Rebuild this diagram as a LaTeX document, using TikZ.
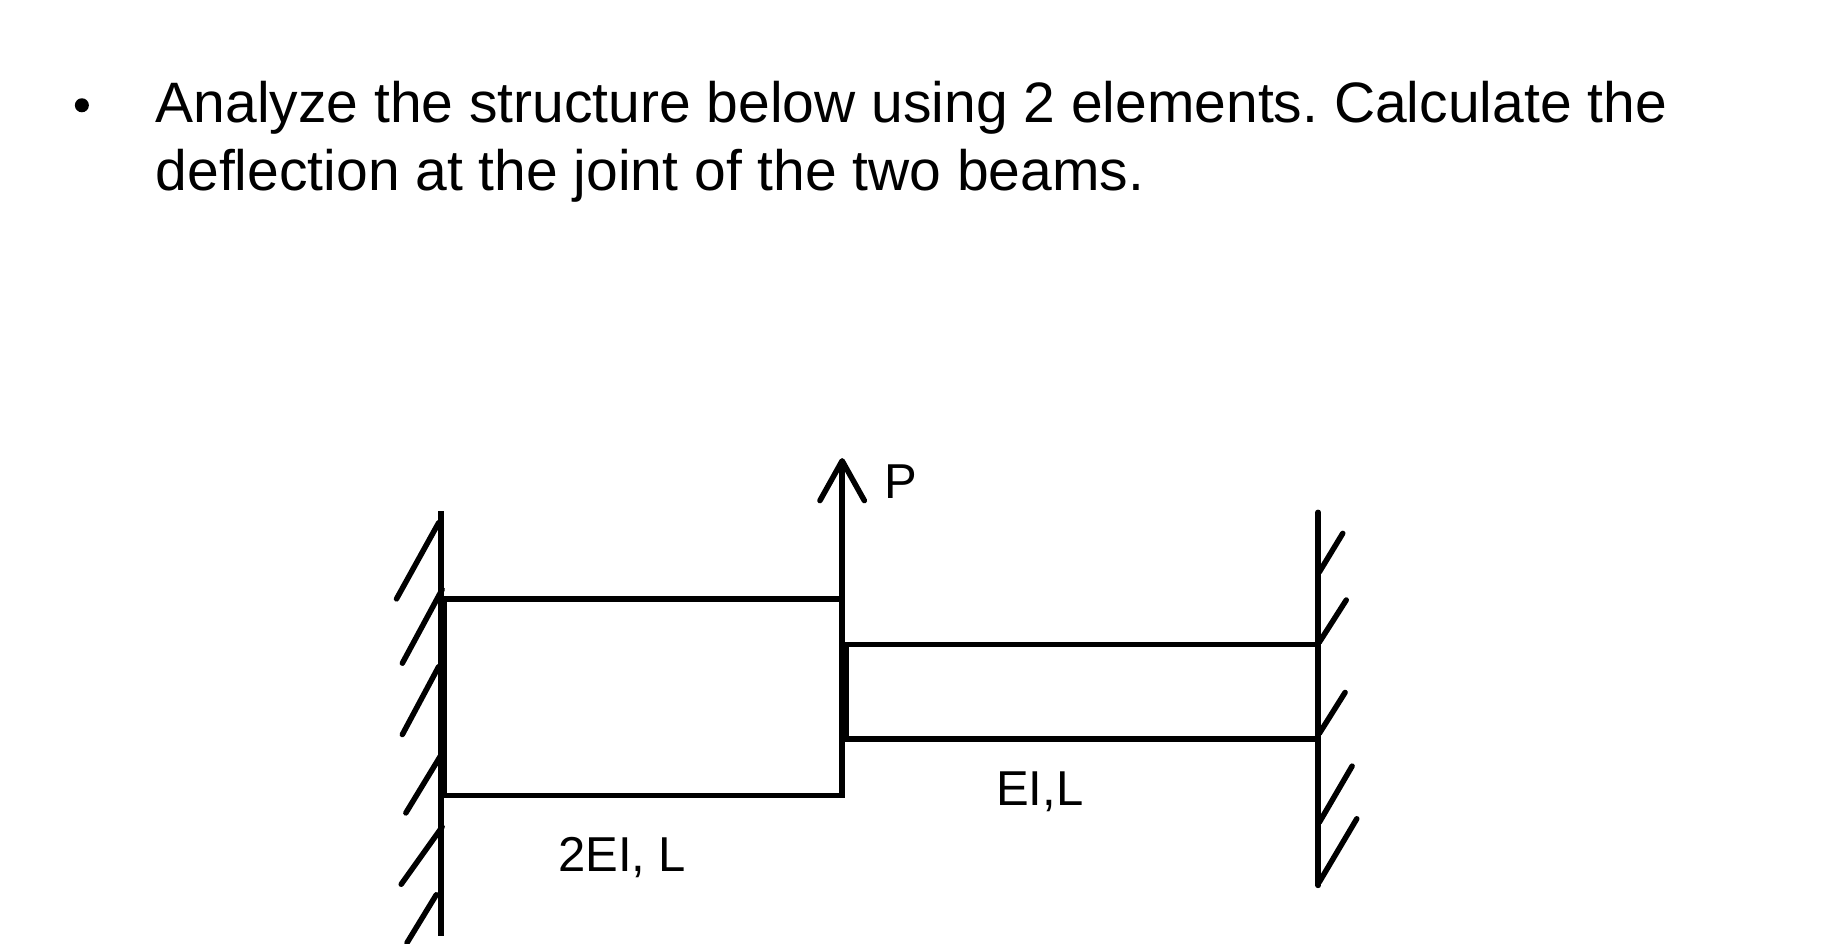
\documentclass[tikz,border=0pt]{standalone}
\usepackage{fontspec}
\setmainfont{Liberation Sans}
\frenchspacing
\begin{document}
\begin{tikzpicture}[x=1.1697pt,y=-1.1697pt,
  thin line/.style={line width=5.5pt},
  thick line/.style={line width=9pt},
  hatch/.style={line width=5.5pt,line cap=round},
  title/.style={font=\fontsize{57}{66}\selectfont,anchor=base west,inner sep=0},
  lab/.style={font=\fontsize{49}{56}\selectfont,inner sep=0}]
\useasboundingbox (0,0) rectangle (1568,807);
\fill (70,90) circle (6);
\node[title] (t1) at (133,105) {Analyze the structure below using 2 elements. Calculate the};
\node[title] (t2) at (133,163) {deflection at the joint of the two beams.};
% left wall
\draw[thin line] (377,437) -- (377,800);
\draw[thick line] (378,512) -- (378,680);
\foreach \a/\b/\c/\d in {375/447/339/512, 378/504/344/567, 375/570/344/628, 378/644/347/695, 378/707/343/756, 373/765/348/806}
  \draw[hatch] (\a,\b) -- (\c,\d);
% left beam
\draw[thin line] (377,512) -- (720,512) -- (720,680) -- (377,680);
% right beam
\draw[thin line] (720,551) -- (1128,551);
\draw[thin line] (720,632) -- (1128,632);
\draw[thick line] (722,551) -- (722,632);
% right wall
\draw[thin line,line cap=round] (1127,438) -- (1127,757);
\foreach \a/\b/\c/\d in {1128/489/1148/456, 1128/549/1151/513, 1128/627/1150/592, 1128/703/1156/655, 1128/754/1160/700}
  \draw[hatch] (\a,\b) -- (\c,\d);
% load
\coordinate (tip) at (720,394);
\draw[thin line] (720,512) -- (tip);
\draw[hatch,line join=round] (701,428) -- (tip) -- (739,428);
\node[lab,anchor=west] (P) at (756,412) {P};
\node[lab] (l1) at (532,733) {2EI, L};
\node[lab] (l2) at (889,677) {EI,L};
\end{tikzpicture}
\end{document}
